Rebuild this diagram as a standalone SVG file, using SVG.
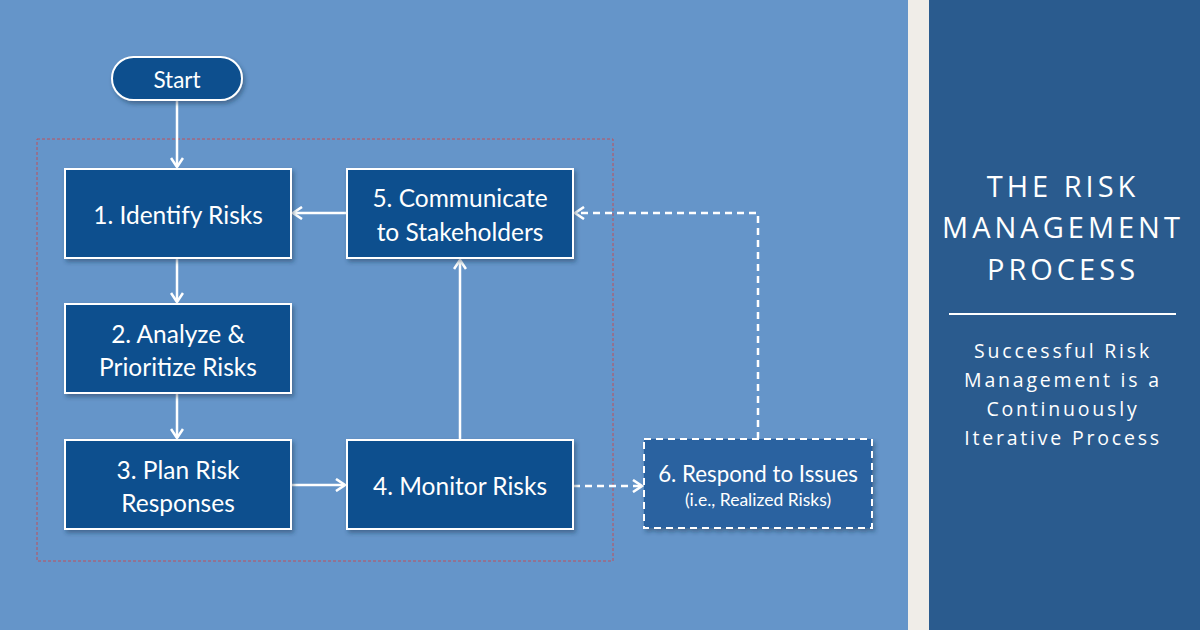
<svg xmlns="http://www.w3.org/2000/svg" width="1200" height="630" viewBox="0 0 1200 630">
<style>
.box{fill:#0b4f8e;stroke:#ffffff;stroke-width:2}
.dbox{fill:#2c62a0;stroke:#ffffff;stroke-width:2;stroke-dasharray:7 5}
.t{font-family:Lato,"Open Sans",sans-serif;fill:#ffffff;text-anchor:middle;font-size:24.5px}
.ts{font-family:Lato,"Open Sans",sans-serif;fill:#ffffff;text-anchor:middle;font-size:17.5px}
.c{fill:none;stroke:#ffffff;stroke-width:2.5}
.cd{fill:none;stroke:#ffffff;stroke-width:2.5;stroke-dasharray:7 5}
.h{font-family:"Open Sans",Lato,sans-serif;fill:#ffffff;text-anchor:middle;font-size:29px;letter-spacing:4px}
.s{font-family:"Open Sans",Lato,sans-serif;fill:#ffffff;text-anchor:middle;font-size:19.5px;letter-spacing:2.8px}
</style>
<defs>
<marker id="arr" viewBox="0 0 14 14" refX="12" refY="7" markerWidth="14" markerHeight="14" markerUnits="userSpaceOnUse" orient="auto">
<polyline points="3,1 12,7 3,13" fill="none" stroke="#ffffff" stroke-width="2.6"/>
</marker>
<filter id="sh" x="-10%" y="-10%" width="125%" height="130%">
<feDropShadow dx="2" dy="3" stdDeviation="2" flood-color="#1a3050" flood-opacity="0.45"/>
</filter>
</defs>
<rect x="0" y="0" width="1200" height="630" fill="#6595c9"/>
<rect x="908" y="0" width="21" height="630" fill="#f0ede8"/>
<rect x="929" y="0" width="271" height="630" fill="#2a5b8e"/>
<rect x="37" y="139" width="576" height="422" fill="none" stroke="#c0505a" stroke-width="1" stroke-dasharray="3 2"/>

<g id="connectors">
<line class="c" x1="177" y1="100" x2="177" y2="167" marker-end="url(#arr)"/>
<line class="c" x1="177" y1="258" x2="177" y2="302" marker-end="url(#arr)"/>
<line class="c" x1="177" y1="393" x2="177" y2="438" marker-end="url(#arr)"/>
<line class="c" x1="291" y1="485" x2="345" y2="485" marker-end="url(#arr)"/>
<line class="c" x1="460" y1="440" x2="460" y2="260" marker-end="url(#arr)"/>
<line class="c" x1="347" y1="213" x2="293" y2="213" marker-end="url(#arr)"/>
<line class="cd" x1="573" y1="486" x2="642" y2="486" marker-end="url(#arr)"/>
<polyline class="cd" points="758,439 758,213 575,213" marker-end="url(#arr)"/>
</g>

<g id="start">
<rect x="112" y="57" width="130" height="43" rx="21.5" class="box" filter="url(#sh)"/>
<text class="t" x="177" y="88" style="font-size:22.5px">Start</text>
</g>
<g id="n1">
<rect x="65" y="169" width="226" height="89" class="box" filter="url(#sh)"/>
<text class="t" x="178" y="224">1. Identify Risks</text>
</g>
<g id="n2">
<rect x="65" y="304" width="226" height="89" class="box" filter="url(#sh)"/>
<text class="t" x="178" y="343">2. Analyze &amp;</text>
<text class="t" x="178" y="376">Prioritize Risks</text>
</g>
<g id="n3">
<rect x="65" y="440" width="226" height="89" class="box" filter="url(#sh)"/>
<text class="t" x="178" y="479">3. Plan Risk</text>
<text class="t" x="178" y="512">Responses</text>
</g>
<g id="n4">
<rect x="347" y="440" width="226" height="89" class="box" filter="url(#sh)"/>
<text class="t" x="460" y="495">4. Monitor Risks</text>
</g>
<g id="n5">
<rect x="347" y="169" width="226" height="89" class="box" filter="url(#sh)"/>
<text class="t" x="460" y="207">5. Communicate</text>
<text class="t" x="460" y="241">to Stakeholders</text>
</g>
<g id="n6">
<rect x="644" y="439" width="228" height="89" class="dbox" filter="url(#sh)"/>
<text class="t" x="758" y="482" style="font-size:22.3px">6. Respond to Issues</text>
<text class="ts" x="758" y="506">(i.e., Realized Risks)</text>
</g>

<g id="title">
<text class="h" x="1063" y="197">THE RISK</text>
<text class="h" x="1063" y="238">MANAGEMENT</text>
<text class="h" x="1063" y="280">PROCESS</text>
<line x1="949" y1="314" x2="1176" y2="314" stroke="#ffffff" stroke-width="2"/>
<text class="s" x="1063" y="358">Successful Risk</text>
<text class="s" x="1063" y="387">Management is a</text>
<text class="s" x="1063" y="416">Continuously</text>
<text class="s" x="1063" y="445">Iterative Process</text>
</g>
</svg>
